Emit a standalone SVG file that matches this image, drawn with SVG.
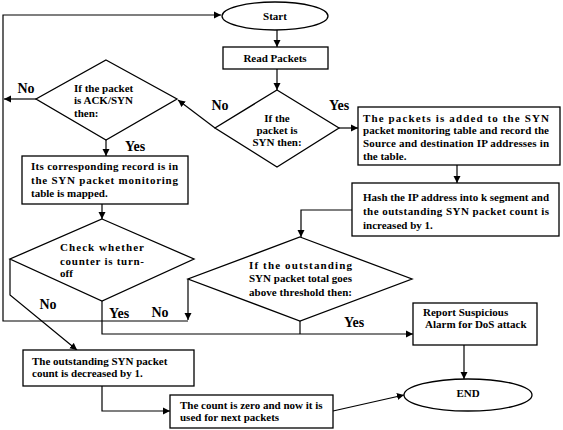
<svg xmlns="http://www.w3.org/2000/svg" width="563" height="430" viewBox="0 0 563 430">
<defs>
<marker id="ah" markerWidth="8" markerHeight="8" refX="7" refY="4" orient="auto" markerUnits="userSpaceOnUse">
<path d="M0,0.5 L7,4 L0,7.5 Z" fill="#000"/>
</marker>
<style>
.s{fill:#fff;stroke:#000;stroke-width:1.3}
.c{fill:none;stroke:#000;stroke-width:1.2}
.a{marker-end:url(#ah)}
text{font-family:"Liberation Serif","Times New Roman",serif;font-weight:bold;font-size:11px;fill:#000}
.l{font-size:14px}
.m{text-anchor:middle}
</style>
</defs>
<rect width="563" height="430" fill="#fff"/>
<g id="connectors">
<path class="c a" d="M188,279 V320"/>
<path class="c a" d="M188,321 H3 V15 H221"/>
<path class="c a" d="M277,30 V47"/>
<path class="c a" d="M277,69 V90"/>
<path class="c a" d="M339,128 H358"/>
<path class="c a" d="M215,128 L178,100"/>
<path class="c a" d="M36,99 H4"/>
<path class="c a" d="M106,140 V156"/>
<path class="c a" d="M102,204 V219"/>
<path class="c a" d="M457,165 V183"/>
<path class="c a" d="M352,210 H301 V237"/>
<path class="c a" d="M102,301 V334 H413"/>
<path class="c" d="M300,321 V334"/>
<path class="c a" d="M10,259 V295 L77,350"/>
<path class="c a" d="M102,386 V411 H170"/>
<path class="c a" d="M333,411 L404,395"/>
<path class="c a" d="M464,345 V379"/>
<text class="l" x="26" y="93" text-anchor="middle">No</text>
<text class="l" x="135" y="151" text-anchor="middle">Yes</text>
<text class="l" x="220" y="110" text-anchor="middle">No</text>
<text class="l" x="339" y="110" text-anchor="middle">Yes</text>
<text class="l" x="48" y="309" text-anchor="middle">No</text>
<text class="l" x="119" y="318" text-anchor="middle">Yes</text>
<text class="l" x="160" y="317" text-anchor="middle">No</text>
<text class="l" x="354" y="327" text-anchor="middle">Yes</text>
</g>
<g id="start">
<ellipse class="s" cx="275" cy="16" rx="53" ry="14"/>
<text class="m" x="275" y="20">Start</text>
</g>
<g id="read">
<rect class="s" x="223" y="47" width="105" height="22"/>
<text class="m" x="275" y="62">Read Packets</text>
</g>
<g id="syn">
<polygon class="s" points="277,90 339,128 277,167 215,128"/>
<text class="m" x="277" y="122">If the</text>
<text class="m" x="277" y="134">packet is</text>
<text class="m" x="277" y="146">SYN then:</text>
</g>
<g id="ack">
<polygon class="s" points="106,60 177,99 106,140 36,99"/>
<text x="74" y="92">If the packet</text>
<text x="74" y="104">is ACK/SYN</text>
<text x="74" y="117">then:</text>
</g>
<g id="added">
<rect class="s" x="358" y="107" width="202" height="58"/>
<text x="363" y="122" textLength="186" lengthAdjust="spacing">The packets is added to the SYN</text>
<text x="363" y="134" textLength="186" lengthAdjust="spacing">packet monitoring table and record the</text>
<text x="363" y="147" textLength="186" lengthAdjust="spacing">Source and destination IP addresses in</text>
<text x="363" y="160">the table.</text>
</g>
<g id="hash">
<rect class="s" x="352" y="183" width="207" height="53"/>
<text x="363" y="201" textLength="186" lengthAdjust="spacing">Hash the IP address into k segment and</text>
<text x="363" y="215" textLength="186" lengthAdjust="spacing">the outstanding SYN packet count is</text>
<text x="363" y="229">increased by 1.</text>
</g>
<g id="record">
<rect class="s" x="22" y="156" width="166" height="48"/>
<text x="31" y="170" textLength="147" lengthAdjust="spacing">Its corresponding record is in</text>
<text x="31" y="184" textLength="147" lengthAdjust="spacing">the SYN packet monitoring</text>
<text x="31" y="197">table is mapped.</text>
</g>
<g id="check">
<polygon class="s" points="102,219 194,259 102,301 10,259"/>
<text x="60" y="251" textLength="84" lengthAdjust="spacing">Check whether</text>
<text x="60" y="265" textLength="84" lengthAdjust="spacing">counter is turn-</text>
<text x="60" y="277">off</text>
</g>
<g id="threshold">
<polygon class="s" points="300,237 412,279 300,321 188,279"/>
<text x="249" y="269" textLength="103" lengthAdjust="spacing">If the outstanding</text>
<text x="249" y="282" textLength="103" lengthAdjust="spacing">SYN packet total goes</text>
<text x="249" y="296" textLength="103" lengthAdjust="spacing">above threshold then:</text>
</g>
<g id="report">
<rect class="s" x="413" y="303" width="124" height="42"/>
<text x="423" y="316">Report Suspicious</text>
<text x="425" y="328">Alarm for DoS attack</text>
</g>
<g id="end">
<ellipse class="s" cx="468" cy="395" rx="64" ry="16"/>
<text class="m" x="468" y="397">END</text>
</g>
<g id="decrease">
<rect class="s" x="23" y="350" width="171" height="36"/>
<text x="32" y="365">The outstanding SYN packet</text>
<text x="32" y="377">count is decreased by 1.</text>
</g>
<g id="zero">
<rect class="s" x="170" y="395" width="163" height="33"/>
<text x="180" y="409">The count is zero and now it is</text>
<text x="180" y="421">used for next packets</text>
</g>
</svg>
